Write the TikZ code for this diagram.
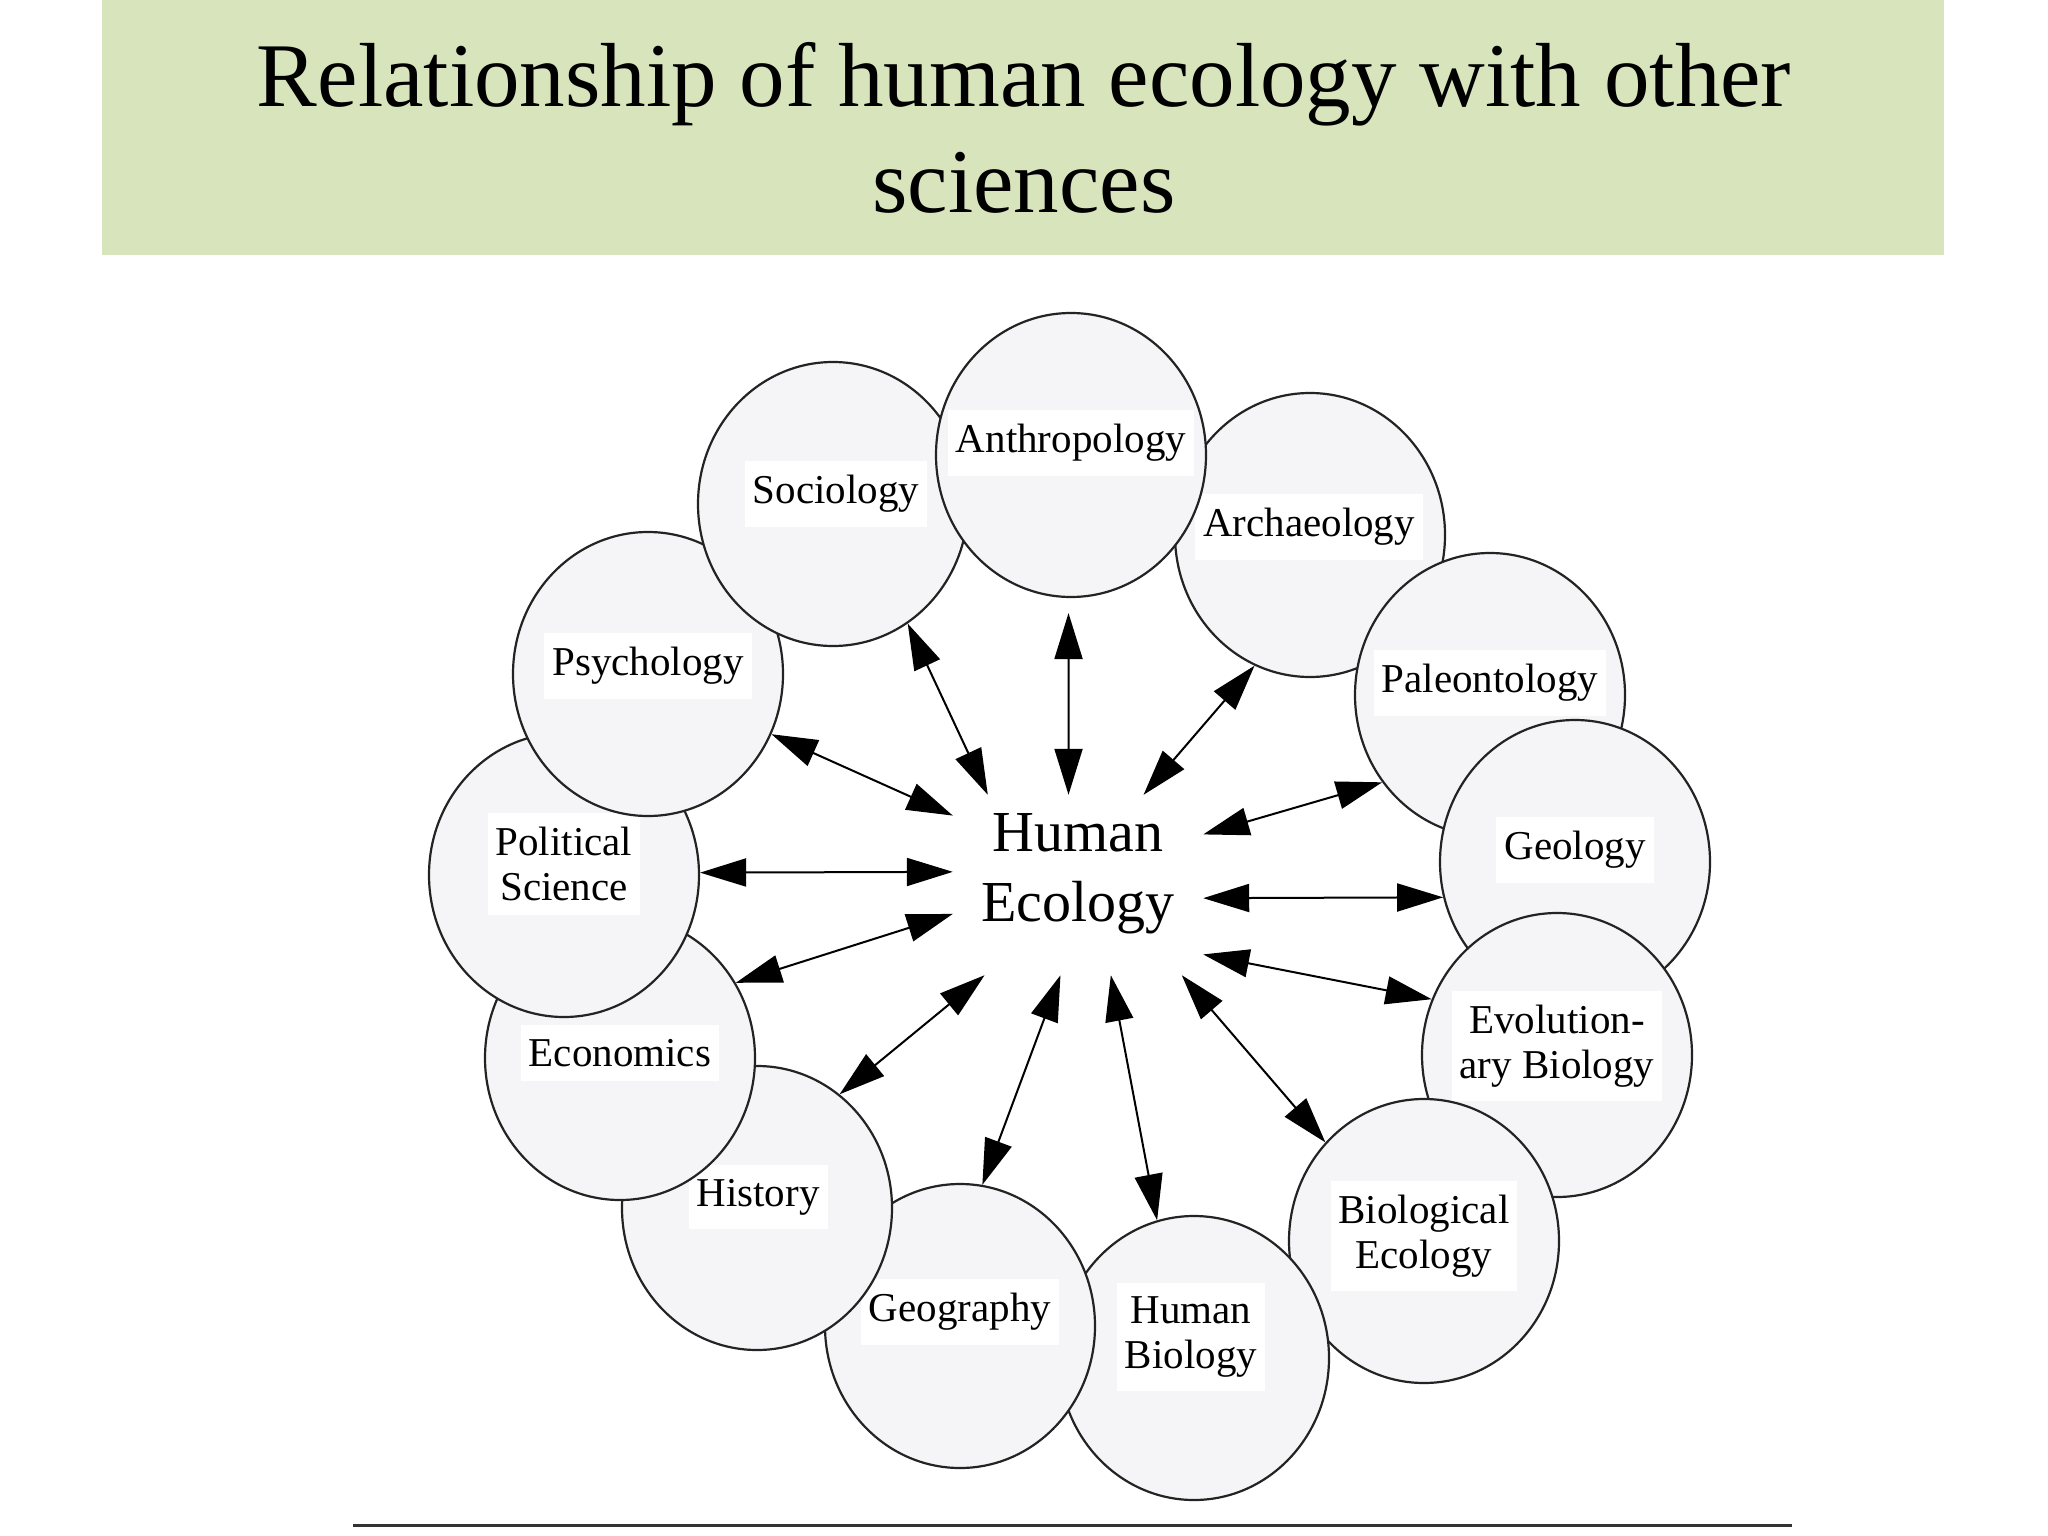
\documentclass[tikz,border=0pt]{standalone}
\usepackage{fontspec}
\setmainfont{Liberation Serif}
\usetikzlibrary{shapes.geometric,arrows.meta}
\definecolor{band}{RGB}{216,228,188}
\definecolor{bubblefill}{RGB}{245,245,247}
\definecolor{edge}{RGB}{35,35,35}
\begin{document}
\begin{tikzpicture}[x=1pt,y=-1pt,
  bubble/.style={ellipse, draw=edge, line width=2.2pt, fill=bubblefill,
    minimum width=270pt, minimum height=284pt, inner sep=0pt},
  lab/.style={fill=white, inner xsep=8pt, inner ysep=14pt, align=center,
    font=\fontsize{41}{45}\selectfont},
  titlefont/.style={inner sep=0pt, anchor=base, font=\fontsize{91}{105}\selectfont},
  arr/.style={line width=2pt, draw=black,
    {Triangle[length=46pt,width=28pt]}-{Triangle[length=46pt,width=28pt]}}
]
\fill[white] (0,0) rectangle (2048,1536);
\useasboundingbox (0,0) rectangle (2048,1536);
% title band
\fill[band] (102,0) rectangle (1944,255);
\node[titlefont] (t1) at (1024,107) {Relationship of human ecology with other};
\node[titlefont] (t2) at (1024,212) {sciences};

% bubbles, bottom to top
\node[bubble] (arch) at (1310,535) {};
\node[lab] (arch-l) at (1309,527) {Archaeology};
\node[bubble] (paleo) at (1490,695) {};
\node[lab] (paleo-l) at (1490,683) {Paleontology};
\node[bubble] (geo) at (1575,862) {};
\node[lab] (geo-l) at (1575,850) {Geology};
\node[bubble] (evo) at (1557,1055) {};
\node[lab] (evo-l) at (1557,1046) {Evolution-\\ary Biology};
\node[bubble] (bioeco) at (1424,1241) {};
\node[lab] (bioeco-l) at (1424,1236) {Biological\\Ecology};
\node[bubble] (humbio) at (1194,1358) {};
\node[lab] (humbio-l) at (1191,1337) {Human\\Biology};
\node[bubble] (geog) at (960,1326) {};
\node[lab] (geog-l) at (960,1312) {Geography};
\node[bubble] (hist) at (757,1208) {};
\node[lab] (hist-l) at (758,1197) {History};
\node[bubble] (econ) at (620,1058) {};
\node[lab] (econ-l) at (620,1053) {Economics};
\node[bubble] (polsci) at (564,875) {};
\node[lab] (polsci-l) at (564,864) {Political\\Science};
\node[bubble] (psych) at (648,674) {};
\node[lab] (psych-l) at (648,666) {Psychology};
\node[bubble] (soc) at (833,504) {};
\node[lab] (soc-l) at (836,494) {Sociology};
\node[bubble] (anth) at (1071,455) {};
\node[lab] (anth-l) at (1071,443) {Anthropology};

% centre
\node[inner sep=0pt, font=\fontsize{58}{70}\selectfont] (he) at (1078,885)
  {\raisebox{-36pt}[90pt][90pt]{\parbox[b]{250pt}{\centering Human\\Ecology}}};

% connectors
\draw[arr, shorten <=15pt] (anth.-91) -- (he.96);
\draw[arr] (soc.-58) -- (he.135);
\draw[arr] (arch.-113) -- (he.54);
\draw[arr] (paleo.-141) -- (he.22);
\draw[arr] (geo.-165) -- (he.-6);
\draw[arr] (evo.156) -- (he.-29);
\draw[arr] (bioeco.135) -- (he.-41);
\draw[arr] (humbio.105) -- (he.-70);
\draw[arr] (geog.81) -- (he.-101);
\draw[arr] (hist.54) -- (he.-136);
\draw[arr] (econ.33) -- (he.-167);
\draw[arr] (polsci.1) -- (he.174);
\draw[arr] (psych.-26) -- (he.151);

% bottom rule
\draw[line width=3pt, black!80] (353,1525) -- (1792,1525);
\end{tikzpicture}
\end{document}
